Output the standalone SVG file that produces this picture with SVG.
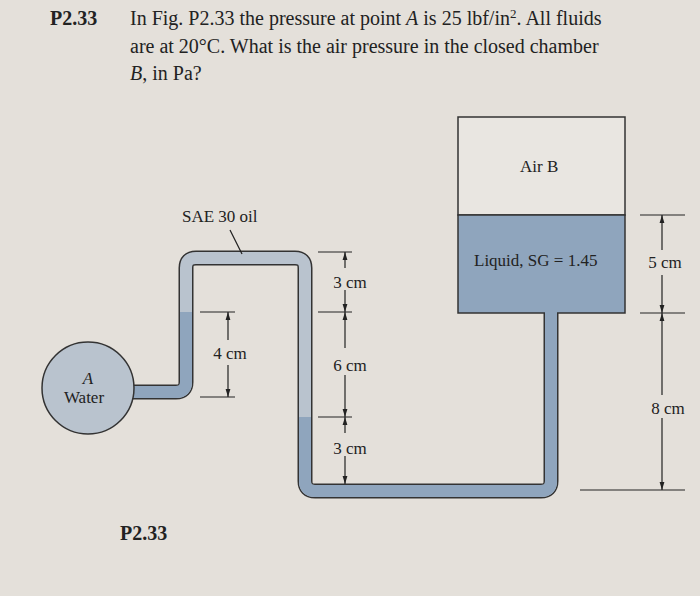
<svg xmlns="http://www.w3.org/2000/svg" width="700" height="596" viewBox="0 0 700 596">
<defs>
<marker id="ah" viewBox="0 0 10 10" refX="10" refY="5" markerWidth="7" markerHeight="7" orient="auto-start-reverse"><path d="M0,2 L10,5 L0,8 z" fill="#222"/></marker>
</defs>
<style>
text{font-family:"Liberation Serif",serif;fill:#222}
.h{font-size:20px}
.l{font-size:17px}
.d{stroke:#222;stroke-width:1.2;fill:none}
.a{stroke:#222;stroke-width:1.2;fill:none;marker-end:url(#ah)}
</style>
<rect width="700" height="596" fill="#e4e0da"/>
<g id="title">
<text class="h" x="50" y="25" font-weight="bold">P2.33</text>
<text class="h" x="130" y="25">In Fig. P2.33 the pressure at point <tspan font-style="italic">A</tspan> is 25 lbf/in<tspan font-size="13" dy="-7">2</tspan><tspan dy="7">. All fluids</tspan></text>
<text class="h" x="130" y="53">are at 20°C. What is the air pressure in the closed chamber</text>
<text class="h" x="130" y="80"><tspan font-style="italic">B</tspan>, in Pa?</text>
</g>
<g id="chamber">
<rect x="458" y="117" width="167" height="98" fill="#e9e6e1" stroke="#333" stroke-width="1.5"/>
<rect x="458" y="215" width="167" height="98" fill="#8fa5bd" stroke="#333" stroke-width="1.5"/>
<text class="l" x="520" y="172">Air B</text>
<text class="l" x="474" y="266">Liquid, SG = 1.45</text>
</g>
<g id="tube">
<path d="M130,392 H176 Q186,392 186,382 V268 Q186,258 196,258 H295 Q305,258 305,268 V481 Q305,491 315,491 H541 Q551,491 551,481 V313" fill="none" stroke="#333" stroke-width="15"/>
<path d="M130,392 H176 Q186,392 186,382 V268 Q186,258 196,258 H295 Q305,258 305,268 V481 Q305,491 315,491 H541 Q551,491 551,481 V312" fill="none" stroke="#b9c3ce" stroke-width="12"/>
<path d="M130,392 H176 Q186,392 186,382 V312" fill="none" stroke="#8fa5bd" stroke-width="12"/>
<path d="M305,417 V481 Q305,491 315,491 H541 Q551,491 551,481 V312" fill="none" stroke="#8fa5bd" stroke-width="12"/>
<line x1="230" y1="230" x2="242" y2="254" class="d"/>
<text class="l" x="182" y="222">SAE 30 oil</text>
</g>
<g id="A">
<circle cx="88" cy="388" r="46" fill="#b9c3ce" stroke="#333" stroke-width="1.5"/>
<text class="l" x="88" y="384" text-anchor="middle" font-style="italic">A</text>
<text class="l" x="84" y="403" text-anchor="middle">Water</text>
</g>
<g id="dims">
<line x1="318" y1="252" x2="352" y2="252" class="d"/>
<line x1="318" y1="312" x2="352" y2="312" class="d"/>
<line x1="318" y1="417" x2="352" y2="417" class="d"/>
<line x1="345" y1="268" x2="345" y2="252" class="a"/>
<line x1="345" y1="290" x2="345" y2="312" class="a"/>
<line x1="345" y1="348" x2="345" y2="312" class="a"/>
<line x1="345" y1="375" x2="345" y2="417" class="a"/>
<line x1="345" y1="433" x2="345" y2="417" class="a"/>
<line x1="345" y1="456" x2="345" y2="484" class="a"/>
<text class="l" x="350" y="288" text-anchor="middle">3 cm</text>
<text class="l" x="350" y="371" text-anchor="middle">6 cm</text>
<text class="l" x="350" y="454" text-anchor="middle">3 cm</text>
<line x1="200" y1="312" x2="235" y2="312" class="d"/>
<line x1="200" y1="397" x2="235" y2="397" class="d"/>
<line x1="228" y1="340" x2="228" y2="312" class="a"/>
<line x1="228" y1="365" x2="228" y2="397" class="a"/>
<text class="l" x="230" y="359" text-anchor="middle">4 cm</text>
<line x1="640" y1="215" x2="685" y2="215" class="d"/>
<line x1="640" y1="313" x2="685" y2="313" class="d"/>
<line x1="580" y1="490" x2="685" y2="490" class="d"/>
<line x1="662" y1="250" x2="662" y2="215" class="a"/>
<line x1="662" y1="275" x2="662" y2="313" class="a"/>
<line x1="662" y1="395" x2="662" y2="313" class="a"/>
<line x1="662" y1="418" x2="662" y2="490" class="a"/>
<text class="l" x="665" y="268" text-anchor="middle">5 cm</text>
<text class="l" x="668" y="414" text-anchor="middle">8 cm</text>
</g>
<text x="120" y="540" font-size="20" font-weight="bold">P2.33</text>
</svg>
